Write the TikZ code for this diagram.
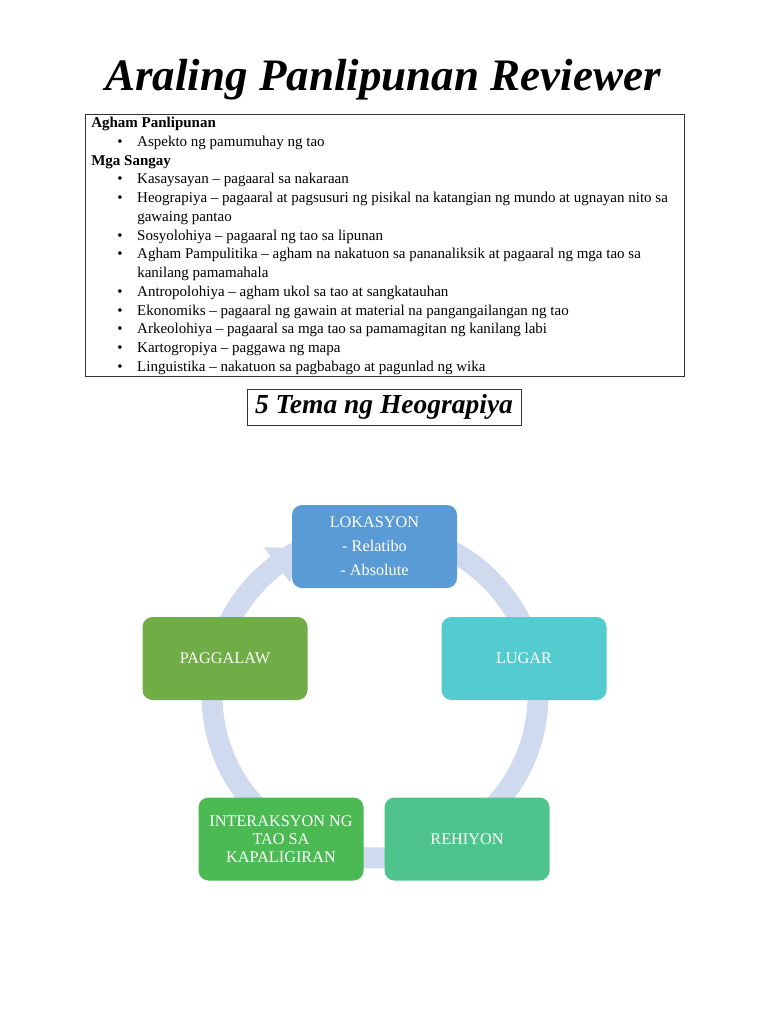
\documentclass[tikz,border=0pt]{standalone}
\usepackage{fontspec}
\setmainfont{Liberation Serif}
\usetikzlibrary{calc}

% bullet rows of the info box
\newcommand{\itm}{\hspace*{20.8pt}\makebox[16pt][l]{\textbullet}}
\newcommand{\cnt}{\hspace*{36.8pt}}

\definecolor{lokcol}{HTML}{5B9BD5}
\definecolor{lugcol}{HTML}{54CBCF}
\definecolor{rehcol}{HTML}{4EC48C}
\definecolor{intcol}{HTML}{4BBA52}
\definecolor{pagcol}{HTML}{70AD47}
\definecolor{bandcol}{HTML}{D0DAEE}

\begin{document}
\begin{tikzpicture}[
  x=0.8pt, y=0.8pt,
  tema/.style={rounded corners=8pt, minimum width=132pt, minimum height=66.4pt,
    align=center, text=white, font=\fontsize{13}{14.4}\selectfont, inner sep=2pt},
  band/.style={draw=bandcol, line width=16.8pt},
  frame/.style={draw=black!80, line width=0.6pt}
]
\useasboundingbox (0,0) rectangle (768,-1024);

% title
\node[anchor=base, font=\fontsize{36}{42}\selectfont\bfseries\itshape] (title) at (383,-91)
  {Araling Panlipunan Reviewer};

% info box
\draw[frame] (85,-114) rectangle (684,-376);
\node[anchor=north west, inner sep=0pt, align=left,
      font=\fontsize{12}{15}\selectfont] (info) at (91,-117) {%
\textbf{Agham Panlipunan}\\
\itm Aspekto ng pamumuhay ng tao\\
\textbf{Mga Sangay}\\
\itm Kasaysayan – pagaaral sa nakaraan\\
\itm Heograpiya – pagaaral at pagsusuri ng pisikal na katangian ng mundo at ugnayan nito sa\\
\cnt gawaing pantao\\
\itm Sosyolohiya – pagaaral ng tao sa lipunan\\
\itm Agham Pampulitika – agham na nakatuon sa pananaliksik at pagaaral ng mga tao sa\\
\cnt kanilang pamamahala\\
\itm Antropolohiya – agham ukol sa tao at sangkatauhan\\
\itm Ekonomiks – pagaaral ng gawain at material na pangangailangan ng tao\\
\itm Arkeolohiya – pagaaral sa mga tao sa pamamagitan ng kanilang labi\\
\itm Kartogropiya – paggawa ng mapa\\
\itm Linguistika – nakatuon sa pagbabago at pagunlad ng wika};

% heading
\node[frame, minimum width=219.2pt, minimum height=28.8pt, inner sep=0pt,
      font=\fontsize{22}{26}\selectfont\bfseries\itshape] (tema) at (384,-407)
  {5 Tema ng Heograpiya};

% cycle band
\coordinate (ctr) at (375,-695);
\draw[band] (ctr) circle[radius=163];
\fill[bandcol] ($(ctr)+(127:185)$) -- ($(ctr)+(127:163)+(37:28)$)
  -- ($(ctr)+(127:141)$) -- cycle;

% themes
\node[tema, fill=lokcol, font=\fontsize{13}{19.2}\selectfont] (lok) at (374.5,-546.5)
  {LOKASYON\\- Relatibo\\- Absolute};
\node[tema, fill=lugcol] (lug) at (524,-658.5) {LUGAR};
\node[tema, fill=rehcol] (reh) at (467,-839) {REHIYON};
\node[tema, fill=intcol] (int) at (281,-839) {INTERAKSYON NG\\TAO SA\\KAPALIGIRAN};
\node[tema, fill=pagcol] (pag) at (225,-658.5) {PAGGALAW};

\end{tikzpicture}
\end{document}
